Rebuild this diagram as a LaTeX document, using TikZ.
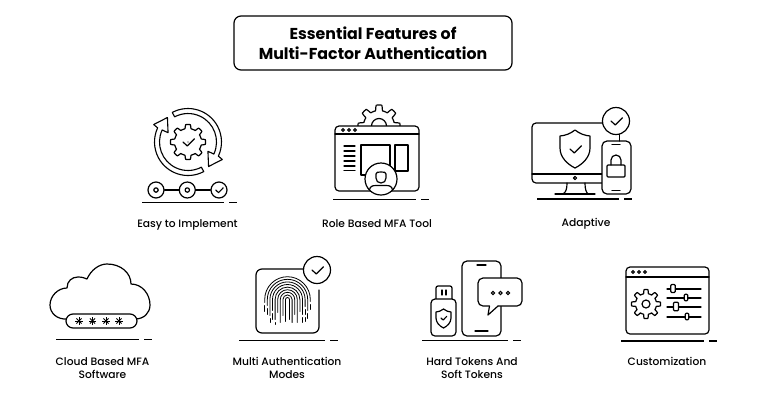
\documentclass[tikz,border=0pt]{standalone}
\usepackage{fontspec}
\setmainfont{Poppins}[UprightFont=* Medium,BoldFont=* Bold]
\usetikzlibrary{positioning}

\tikzset{
	iconline/.style={line width=1.2pt,line join=round,line cap=round,black},
	softline/.style={line width=.8pt,line cap=round,black},
	ringnode/.style={circle,draw,line width=1.2pt,fill=white,inner sep=0pt,minimum size=#1},
	devicebox/.style={draw,line width=1.2pt,rounded corners=4pt,fill=white,inner sep=0pt,outer sep=0pt},
	featlabel/.style={align=center,font=\fontsize{10.7}{12.6}\selectfont,inner sep=0pt},
	titlebox/.style={draw,line width=1.2pt,rounded corners=7pt,minimum width=278,minimum height=54,
		align=center,font=\fontsize{15.8}{20}\selectfont\bfseries},
	declare function={gearrad(\t,\ri,\ro)=\ri+(\ro-\ri)*min(1,max(0,1.5*cos(8*\t)+.3));}
}

% x1, x2, y
\newcommand{\underrule}[3]{
	\draw[line width=1.4pt] (#1,#3) -- (#2,#3);
	\draw[line width=1.4pt] ({#2+5},#3) -- ({#2+13},#3);
}
% centre, scale
\newcommand{\tickmark}[2]{
	\draw[iconline,shift={#1},scale=#2] (-5,0) -- (-.7,4) -- (6.5,-3.3);
}
\newcommand{\gearicon}[4]{
	\draw[iconline,fill=white,shift={#1}] plot[domain=0:360,samples=241] (\x:{gearrad(\x,#2,#3)}) -- cycle;
	\draw[iconline,shift={#1}] (0,0) circle (#4);
}
\newcommand{\shieldicon}[2]{
	\draw[iconline,shift={#1},scale=#2] (0,-18) .. controls (5,-14) and (10,-12.5) .. (15,-12) -- (15,0)
		.. controls (15,9) and (8,16) .. (0,20) .. controls (-8,16) and (-15,9) .. (-15,0) -- (-15,-12)
		.. controls (-10,-12.5) and (-5,-14) .. cycle;
}
\newcommand{\windowdots}[2]{
	\foreach \d in {0,6,12}
		\draw[line width=1pt] ({#1+\d},#2) circle (1.4);
}

\begin{document}
\begin{tikzpicture}[x=1pt,y=-1pt]
	\useasboundingbox (0,0) rectangle (768,400);
	\fill[white] (0,0) rectangle (768,400);

	\node[titlebox] (title) at (373,43) {Essential Features of\\Multi-Factor Authentication};

	% easy to implement
	\gearicon{(188,142)}{13.5}{17.5}{0}
	\tickmark{(188,142)}{1}
	\foreach \rot in {0,180}
		\draw[iconline,line width=1.1pt,shift={(188,142)},rotate=\rot] (242:33.5) arc (242:385:33.5) -- (27:38.5) -- (50:32)
			-- (25:22) -- (25:28.5) arc (385:242:28.5) -- cycle;
	\node[ringnode=16] (st_a) at (156,190) {};
	\node[ringnode=16] (st_b) at (187.3,190) {};
	\node[ringnode=16] (st_c) at (219,190) {};
	\draw[iconline] (st_a) -- (st_b);
	\draw[iconline] (st_b) -- (st_c);
	\draw[iconline] (st_a) circle (2.2);
	\draw[iconline] (st_b) circle (2.2);
	\tickmark{(219,190)}{.65}
	\underrule{142}{224}{202.7}
	\node[featlabel] (lbl_easy) at (187.5,224.5) {Easy to Implement};

	% role based
	\begin{scope}
		\clip (340,95) rectangle (420,126);
		\gearicon{(379,126)}{15.5}{21}{7.5}
	\end{scope}
	\draw[iconline,fill=white,rounded corners=4pt] (335,126) rectangle (419,191);
	\draw[iconline] (335,134) -- (419,134);
	\windowdots{343}{130}
	\foreach \y in {146,151,156,161,166,170.5}
		\draw[iconline] (344,\y) -- (355,\y);
	\draw[iconline] (361,145) rectangle (390,175);
	\draw[iconline] (395,145) rectangle (408,171);
	\node[ringnode=32] (role_ring) at (381,179) {};
	\draw[iconline] (376,174) .. controls (376,172) and (378,172) .. (381,172) .. controls (384,172) and (386,172) .. (386,174)
		-- (386,178) .. controls (386,181) and (384,183) .. (381,183) .. controls (378,183) and (376,181) .. (376,178) -- cycle;
	\draw[iconline] (369.5,190) .. controls (370,186.5) and (372,185.5) .. (376,185.5) -- (386,185.5)
		.. controls (390,185.5) and (392,186.5) .. (392.5,190);
	\underrule{333}{416}{199.7}
	\node[featlabel] (lbl_role) at (377,224) {Role Based MFA Tool};

	% adaptive
	\draw[iconline,rounded corners=4pt] (606,123) -- (532,123) -- (532,183) -- (606,183);
	\draw[iconline] (532,174) -- (603,174);
	\draw[iconline] (575,178) circle (1.6);
	\draw[iconline] (567,183) .. controls (567,189) and (566,192) .. (563,194);
	\draw[iconline] (585,183) .. controls (585,189) and (586,192) .. (588,194);
	\draw[iconline] (555,194) -- (595,194);
	\shieldicon{(575,148)}{1}
	\tickmark{(575,149)}{1}
	\node[devicebox,rounded corners=5pt,minimum width=29,minimum height=53] (phone_adapt) at (616.5,167.5) {};
	\node[ringnode=27] (chk_adapt) at (616,121) {};
	\draw[iconline] (chk_adapt.285) -- (chk_adapt.285 |- phone_adapt.north);
	\tickmark{(616,121)}{1}
	\draw[iconline] (612,144.5) -- (620,144.5);
	\draw[iconline] (612,190.5) -- (620,190.5);
	\draw[iconline,rounded corners=1pt] (607,165) rectangle (625,177);
	\draw[iconline] (611,165) -- (611,160) arc (180:360:5) -- (621,165);
	\underrule{537}{619}{199}
	\node[featlabel] (lbl_adapt) at (586,224) {Adaptive};

	% cloud
	\draw[iconline] (68,319) .. controls (57,320) and (50,313) .. (50,305) .. controls (50,296) and (58,288) .. (67,288)
		.. controls (67,281) and (72,277) .. (78,277) .. controls (82,277) and (85,278) .. (87,279)
		.. controls (91,270) and (99,264) .. (107,264) .. controls (121,264) and (131,273) .. (131,284)
		.. controls (142,284) and (150,294) .. (150,305) .. controls (150,313) and (144,319) .. (135,319);
	\node[devicebox,rounded corners=7pt,minimum width=71,minimum height=14] (pin_pill) at (101.5,321) {};
	\foreach \px in {79,92.5,106,119}
		\foreach \ang in {0,45,90,135}
			\draw[line width=.9pt,shift={(\px,321)}] (\ang:3.6) -- (\ang+180:3.6);
	\underrule{56}{139}{339.3}
	\node[featlabel] (lbl_cloud) at (102.5,368) {Cloud Based MFA\\Software};

	% fingerprint
	\draw[iconline,rounded corners=6pt] (319,290) -- (319,333) -- (256,333) -- (256,269) -- (305,269);
	\node[ringnode=27] (chk_modes) at (317,270) {};
	\tickmark{(317,270)}{1}
	\foreach \r/\lenl/\lenr in {2/22/20,4.6/16/23,7.2/23/15,9.8/13/23,12.4/20/12,15/11/15,17.6/16/7,20.2/6/11,22.8/3/2}
		\draw[softline] ({287.5-\r},{299.5+\lenl}) -- ({287.5-\r},299.5) arc (180:360:\r) -- ({287.5+\r},{299.5+\lenr});
	\foreach \r/\ya/\yb in {15/18/23,17.6/10/15,17.6/18/22,20.2/14/19,22.8/5/10,-15/14/20,-17.6/19/23,-20.2/9/15,-22.8/6/12,-12.4/23/25}
		\draw[softline] ({287.5+\r},{299.5+\ya}) -- ({287.5+\r},{299.5+\yb});
	\underrule{239}{325}{340.7}
	\node[featlabel] (lbl_modes) at (287,368) {Multi Authentication\\Modes};

	% tokens
	\node[devicebox,rounded corners=5pt,minimum width=39,minimum height=75] (phone_token) at (481.5,298.5) {};
	\draw[iconline] (477,265) -- (486,265);
	\draw[iconline] (475,331) -- (488,331);
	\draw[iconline,fill=white,rounded corners=5pt] (489,306) -- (478,306) -- (478,278) -- (522,278) -- (522,306) -- (498,306);
	\draw[iconline,fill=white,line join=round] (489.5,306) -- (488,315) -- (498,306);
	\foreach \px in {493,500.5,508}
		\draw[line width=1pt] (\px,293) circle (1.6);
	\draw[iconline,rounded corners=2pt] (436,299) -- (436,286) -- (452,286) -- (452,299);
	\draw[iconline] (442,290) -- (442,295);
	\draw[iconline] (446,290) -- (446,295);
	\node[devicebox,minimum width=25,minimum height=37] (usb_body) at (443.5,317.5) {};
	\shieldicon{(443.5,318)}{.5}
	\tickmark{(443.5,318)}{.5}
	\underrule{422}{508}{340.7}
	\node[featlabel] (lbl_tokens) at (472,368) {Hard Tokens And\\Soft Tokens};

	% customization
	\node[devicebox,minimum width=83,minimum height=67] (cust_win) at (667.5,300.5) {};
	\draw[iconline] (cust_win.west |- 0,277) -- (cust_win.east |- 0,277);
	\windowdots{633}{272}
	\gearicon{(646,304)}{10.5}{14.5}{4}
	\foreach \y/\kx/\kw/\kh in {289/673/4.5/7,298/686/3.5/5.5,307/676/5/7.5,317/687/3.5/5.5} {
		\draw[iconline] (667,\y) -- (701,\y);
		\draw[iconline,fill=white,rounded corners=1pt] ({\kx-\kw/2},{\y-\kh/2-1}) rectangle ({\kx+\kw/2},{\y+\kh/2});
	}
	\underrule{621}{704}{341}
	\node[featlabel] (lbl_cust) at (667,361.7) {Customization};
\end{tikzpicture}
\end{document}
